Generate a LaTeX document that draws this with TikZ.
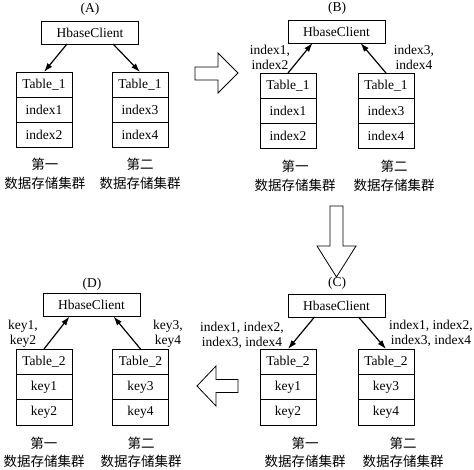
\documentclass[tikz,border=0pt]{standalone}
\usepackage{fontspec}
\setmainfont{Liberation Serif}
\newfontfamily\cjk{Noto Sans CJK SC}
\usetikzlibrary{arrows.meta, positioning}

\begin{document}
\begin{tikzpicture}[
        x=1pt, y=-1pt,
        node distance = 0pt,
        base/.style   ={draw=black, line width=0.8pt, font=\fontsize{13.5}{15}\selectfont,
                        inner sep=0pt, outer sep=0pt},
        client/.style ={base, minimum width=97pt, minimum height=23pt},
        cell/.style   ={base, minimum width=56pt, minimum height=25.3pt},
        tag/.style    ={font=\fontsize{13.5}{15}\selectfont, inner sep=0pt},
        note/.style   ={tag, align=center},
        group/.style  ={font=\cjk\fontsize{13.5}{18.5}\selectfont, align=center, inner sep=0pt},
        arrow/.style  ={-{Latex[length=9pt,width=6pt]}, line width=1.2pt},
        bigarrow/.style={draw=black, line width=0.8pt, line join=miter}
    ]
    \useasboundingbox (0,0) rectangle (474,470);

    % --- (A) ---
    \node[tag] (labA) at (90,9) {(A)};
    \node[client] (cliA) at (90,32.5) {HbaseClient};

    \node[cell, anchor=north] (tA1) at (44,72) {Table\_1};
    \node[cell, below=of tA1] (tA1a) {index1};
    \node[cell, below=of tA1a] (tA1b) {index2};

    \node[cell, anchor=north] (tA2) at (140,72) {Table\_1};
    \node[cell, below=of tA2] (tA2a) {index3};
    \node[cell, below=of tA2a] (tA2b) {index4};

    \node[group] (grA1) at (45,174) {第一\\数据存储集群};
    \node[group] (grA2) at (140,174) {第二\\数据存储集群};

    \draw[arrow] ([xshift=-23pt]cliA.south) -- (tA1.north);
    \draw[arrow] ([xshift=23pt]cliA.south) -- (tA2.north);

    % --- (B) ---
    \node[tag] (labB) at (337,8) {(B)};
    \node[client] (cliB) at (336.5,31.5) {HbaseClient};

    \node[cell, anchor=north] (tB1) at (288,73) {Table\_1};
    \node[cell, below=of tB1] (tB1a) {index1};
    \node[cell, below=of tB1a] (tB1b) {index2};

    \node[cell, anchor=north] (tB2) at (386,73) {Table\_1};
    \node[cell, below=of tB2] (tB2a) {index3};
    \node[cell, below=of tB2a] (tB2b) {index4};

    \node[group] (grB1) at (295,176) {第一\\数据存储集群};
    \node[group] (grB2) at (394,176) {第二\\数据存储集群};

    \node[note] (resB1) at (270,57.5) {index1,\\index2};
    \node[note] (resB2) at (414,57.5) {index3,\\index4};

    \draw[arrow] (tB1.north) -- ([xshift=-24pt]cliB.south);
    \draw[arrow] (tB2.north) -- ([xshift=24pt]cliB.south);

    % --- (C) ---
    \node[tag] (labC) at (337,283) {(C)};
    \node[client] (cliC) at (336.5,305.5) {HbaseClient};

    \node[cell, anchor=north] (tC1) at (288,349) {Table\_2};
    \node[cell, below=of tC1] (tC1a) {key1};
    \node[cell, below=of tC1a] (tC1b) {key2};

    \node[cell, anchor=north] (tC2) at (386,349) {Table\_2};
    \node[cell, below=of tC2] (tC2a) {key3};
    \node[cell, below=of tC2a] (tC2b) {key4};

    \node[group] (grC1) at (305,452.5) {第一\\数据存储集群};
    \node[group] (grC2) at (403,452.5) {第二\\数据存储集群};

    \node[note] (qC1) at (242,335.5) {index1, index2,\\index3, index4};
    \node[note] (qC2) at (431,333.5) {index1, index2,\\index3, index4};

    \draw[arrow] ([xshift=-22pt]cliC.south) -- (tC1.north);
    \draw[arrow] ([xshift=22pt]cliC.south) -- (tC2.north);

    % --- (D) ---
    \node[tag] (labD) at (92,284) {(D)};
    \node[client] (cliD) at (91.5,305) {HbaseClient};

    \node[cell, anchor=north] (tD1) at (44,349) {Table\_2};
    \node[cell, below=of tD1] (tD1a) {key1};
    \node[cell, below=of tD1a] (tD1b) {key2};

    \node[cell, anchor=north] (tD2) at (140.5,349) {Table\_2};
    \node[cell, below=of tD2] (tD2a) {key3};
    \node[cell, below=of tD2a] (tD2b) {key4};

    \node[group] (grD1) at (44,452.5) {第一\\数据存储集群};
    \node[group] (grD2) at (141,452.5) {第二\\数据存储集群};

    \node[note] (resD1) at (23,333.5) {key1,\\key2};
    \node[note] (resD2) at (168,333.5) {key3,\\key4};

    \draw[arrow] (tD1.north) -- ([xshift=-22pt]cliD.south);
    \draw[arrow] (tD2.north) -- ([xshift=22pt]cliD.south);

    % --- step arrows ---
    \draw[bigarrow] (195,67) -- (218,67) -- (218,53) -- (238,73) -- (218,93) -- (218,80) -- (195,80) -- cycle;
    \draw[bigarrow] (330,206) -- (343,206) -- (343,246) -- (356,246) -- (336.5,277) -- (317,246) -- (330,246) -- cycle;
    \draw[bigarrow] (238,379.5) -- (216,379.5) -- (216,366) -- (197,386) -- (216,406) -- (216,392.5) -- (238,392.5) -- cycle;

\end{tikzpicture}
\end{document}
